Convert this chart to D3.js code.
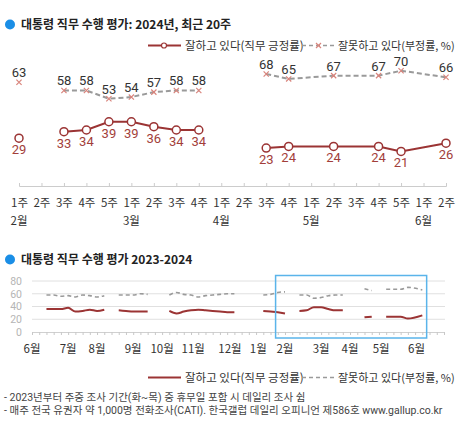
<!DOCTYPE html>
<html>
<head>
<meta charset="utf-8">
<script src="https://cdn.jsdelivr.net/npm/d3@7"></script>
<style>
  body { margin: 0; background: #fff; }
</style>
</head>
<body>
<div id="chart"></div>
<script>
// ---- top chart: last 20 weeks of 2024 ----
const topWeeks = ["1주", "2주", "3주", "4주", "5주", "1주", "2주", "3주", "4주", "1주",
  "2주", "3주", "4주", "1주", "2주", "3주", "4주", "5주", "1주", "2주"];
const topMonths = [
  { label: "2월", week: 0 }, { label: "3월", week: 5 }, { label: "4월", week: 9 },
  { label: "5월", week: 13 }, { label: "6월", week: 18 }
];
const topPositive = [29, null, 33, 34, 39, 39, 36, 34, 34, null,
  null, 23, 24, null, 24, null, 24, 21, null, 26];
const topNegative = [63, null, 58, 58, 53, 54, 57, 58, 58, null,
  null, 68, 65, null, 67, null, 67, 70, null, 66];
const topRuns = [[0, 0], [2, 8], [11, 19]];

// ---- bottom chart: weekly 2023-06 .. 2024-06 ----
const bottomPositive = [null, null, 36, 36, 36, 38, 32, 33, 35, 33,
  35, null, 34, 33, 32, 32, 32, null, null, 33,
  29, 32, 34, 35, 34, 33, 32, 31, 31, null,
  null, null, 33, 32, 31, 29, null, 33, 34, 39,
  39, 36, 34, 34, null, null, 23, 24, null, 24,
  null, 24, 21, null, 26, null, null, null];
const bottomNegative = [null, null, 58, 58, 56, 57, 55, 58, 57, 55,
  57, null, 58, 58, 58, 60, 59, null, null, 58,
  62, 59, 58, 55, 57, 58, 59, 60, 60, null,
  null, null, 58, 59, 62, 63, null, 58, 58, 53,
  54, 57, 58, 58, null, null, 68, 65, null, 67,
  null, 67, 70, null, 66, null, null, null];
const bottomRuns = [[2, 10], [12, 16], [19, 28], [32, 35], [37, 43], [46, 47], [49, 54]];
const bottomMonths = [
  { label: "6월", week: 0 }, { label: "7월", week: 5 }, { label: "8월", week: 9 },
  { label: "9월", week: 14 }, { label: "10월", week: 18 }, { label: "11월", week: 22.3 },
  { label: "12월", week: 27.4 }, { label: "1월", week: 31.3 }, { label: "2월", week: 35 },
  { label: "3월", week: 40 }, { label: "4월", week: 44 }, { label: "5월", week: 48.3 },
  { label: "6월", week: 53.2 }
];
const bottomYTicks = [0, 20, 40, 60, 80];
const highlightWeeks = [33.7, 54.6];

const legendPos = "잘하고 있다(직무 긍정률)";
const legendNeg = "잘못하고 있다(부정률, %)";
const notes = [
  "- 2023년부터 주중 조사 기간(화~목) 중 휴무일 포함 시 데일리 조사 쉼",
  "- 매주 전국 유권자 약 1,000명 전화조사(CATI). 한국갤럽 데일리 오피니언 제586호 www.gallup.co.kr"
];

const RED = "#9b3434";
const RED_TXT = "#a23e3a";
const GRAY = "#9a9a9a";
const PINK = "#d9847c";
const KR = "'Noto Sans CJK KR', 'Noto Sans', sans-serif";
const NUM = "Roboto, 'Noto Sans CJK KR', sans-serif";

const width = 474;
const height = 433;

const svg = d3.select("#chart")
  .append("svg")
  .attr("width", width)
  .attr("height", height)
  .attr("font-family", KR);

function runPoints(values, run) {
  const pts = [];
  for (let i = run[0]; i <= run[1]; i++) {
    if (values[i] != null) pts.push({ i: i, v: values[i] });
  }
  return pts;
}

function drawX(g, cx, cy, s, color) {
  g.append("path")
    .attr("d", `M${cx - s},${cy - s}L${cx + s},${cy + s}M${cx - s},${cy + s}L${cx + s},${cy - s}`)
    .attr("stroke", color)
    .attr("stroke-width", 1.2)
    .attr("fill", "none");
}

function title(y, text) {
  svg.append("circle").attr("cx", 10).attr("cy", y - 4.5).attr("r", 5).attr("fill", "#1a8ee6");
  svg.append("text")
    .attr("x", 21).attr("y", y)
    .attr("font-size", 12).attr("font-weight", "bold").attr("fill", "#222")
    .text(text);
}

function legend(y, withMarkers) {
  const lg = svg.append("g");
  lg.append("line").attr("x1", 148).attr("x2", 181).attr("y1", y).attr("y2", y)
    .attr("stroke", RED).attr("stroke-width", 2);
  if (withMarkers) {
    lg.append("circle").attr("cx", 164).attr("cy", y).attr("r", 2.5)
      .attr("fill", "#fff").attr("stroke", RED).attr("stroke-width", 1.2);
  }
  lg.append("text").attr("x", 185).attr("y", y + 4).attr("font-size", 11.5).attr("fill", "#333").text(legendPos);
  lg.append("line").attr("x1", 302).attr("x2", 335).attr("y1", y).attr("y2", y)
    .attr("stroke", GRAY).attr("stroke-width", 1.6).attr("stroke-dasharray", "4,3");
  if (withMarkers) drawX(lg, 318.5, y, 2.5, PINK);
  lg.append("text").attr("x", 338).attr("y", y + 4).attr("font-size", 11).attr("fill", "#333").text(legendNeg);
}

// ================= TOP CHART =================
title(29, "대통령 직무 수행 평가: 2024년, 최근 20주");
legend(45.5, true);

const xTop = d3.scaleLinear().domain([0, 19]).range([19, 446]);
const yTop = d3.scaleLinear().domain([0, 70]).range([186, 70.7]);

const gTop = svg.append("g");

// axis
const xTopAxis = d3.axisBottom(xTop)
  .tickValues(d3.range(topWeeks.length))
  .tickSize(-3)
  .tickFormat((d) => topWeeks[d]);
const axTop = gTop.append("g")
  .attr("transform", `translate(0,${yTop(0)})`)
  .call(xTopAxis)
  .attr("font-family", KR);
axTop.select(".domain").attr("stroke", "#ccc");
axTop.selectAll(".tick line").attr("stroke", "#ccc");
axTop.selectAll(".tick text")
  .attr("dy", 0).attr("y", 21).attr("font-size", 11.5).attr("fill", "#333");

gTop.selectAll(".month")
  .data(topMonths)
  .join("text")
  .attr("class", "month")
  .attr("x", (d) => xTop(d.week))
  .attr("y", 225)
  .attr("text-anchor", "middle")
  .attr("font-size", 11.5)
  .attr("fill", "#333")
  .text((d) => d.label);

const lineTop = d3.line().x((d) => xTop(d.i)).y((d) => yTop(d.v));

topRuns.forEach((run) => {
  gTop.append("path")
    .datum(runPoints(topNegative, run))
    .attr("fill", "none")
    .attr("stroke", GRAY)
    .attr("stroke-width", 2)
    .attr("stroke-dasharray", "5,3")
    .attr("d", lineTop);
  gTop.append("path")
    .datum(runPoints(topPositive, run))
    .attr("fill", "none")
    .attr("stroke", RED)
    .attr("stroke-width", 2)
    .attr("d", lineTop);
});

topNegative.forEach((v, i) => {
  if (v == null) return;
  drawX(gTop, xTop(i), yTop(v), 2.6, PINK);
  gTop.append("text")
    .attr("x", xTop(i)).attr("y", yTop(v) - 5)
    .attr("text-anchor", "middle").attr("font-size", 13).attr("fill", "#333")
    .attr("font-family", NUM)
    .text(v);
});

topPositive.forEach((v, i) => {
  if (v == null) return;
  gTop.append("circle")
    .attr("cx", xTop(i)).attr("cy", yTop(v)).attr("r", 4)
    .attr("fill", "#fff").attr("stroke", RED).attr("stroke-width", 1.5);
  gTop.append("text")
    .attr("x", xTop(i)).attr("y", yTop(v) + 16)
    .attr("text-anchor", "middle").attr("font-size", 13).attr("fill", RED_TXT)
    .attr("font-family", NUM)
    .text(v);
});

// ================= BOTTOM CHART =================
title(264, "대통령 직무 수행 평가 2023-2024");

const xBot = d3.scaleLinear().domain([0, 57]).range([32, 444]);
const yBot = d3.scaleLinear().domain([0, 80]).range([332, 281]);

const gBot = svg.append("g");

// grid + y labels
gBot.selectAll(".grid")
  .data(bottomYTicks.filter((d) => d > 0))
  .join("line")
  .attr("x1", 32).attr("x2", 445)
  .attr("y1", (d) => yBot(d)).attr("y2", (d) => yBot(d))
  .attr("stroke", "#e0e0e0");

const yAxisBot = d3.axisLeft(yBot).tickValues(bottomYTicks).tickSize(0).tickPadding(0);
const ayBot = gBot.append("g").attr("transform", "translate(22,0)").call(yAxisBot)
  .attr("font-family", NUM).attr("font-size", 10.5);
ayBot.select(".domain").remove();
ayBot.selectAll("text").attr("fill", "#b5b5b5");

const xAxisBot = d3.axisBottom(xBot).tickValues(d3.range(58)).tickSize(3).tickFormat("");
const axBot = gBot.append("g").attr("transform", `translate(0,${yBot(0)})`).call(xAxisBot);
axBot.select(".domain").attr("stroke", "#d0d0d0");
axBot.selectAll(".tick line").attr("stroke", "#c8c8c8");

gBot.selectAll(".bmonth")
  .data(bottomMonths)
  .join("text")
  .attr("class", "bmonth")
  .attr("x", (d) => xBot(d.week))
  .attr("y", 352.5)
  .attr("text-anchor", "middle")
  .attr("font-size", 11.5)
  .attr("fill", "#333")
  .text((d) => d.label);

const lineBot = d3.line().x((d) => xBot(d.i)).y((d) => yBot(d.v)).curve(d3.curveMonotoneX);

bottomRuns.forEach((run) => {
  gBot.append("path")
    .datum(runPoints(bottomNegative, run))
    .attr("fill", "none")
    .attr("stroke", GRAY)
    .attr("stroke-width", 1.6)
    .attr("stroke-dasharray", "4,3")
    .attr("d", lineBot);
  gBot.append("path")
    .datum(runPoints(bottomPositive, run))
    .attr("fill", "none")
    .attr("stroke", RED)
    .attr("stroke-width", 2)
    .attr("d", lineBot);
});

// highlight box for the last 20 weeks
gBot.append("rect")
  .attr("x", xBot(highlightWeeks[0]))
  .attr("y", 275.5)
  .attr("width", xBot(highlightWeeks[1]) - xBot(highlightWeeks[0]))
  .attr("height", 62.5)
  .attr("fill", "none")
  .attr("stroke", "#5ab4ea")
  .attr("stroke-width", 1.5);

legend(377.5, false);

svg.selectAll(".note")
  .data(notes)
  .join("text")
  .attr("class", "note")
  .attr("x", 4)
  .attr("y", (d, i) => 401.3 + i * 12.3)
  .attr("font-size", 10.5)
  .attr("font-family", NUM)
  .attr("fill", "#444")
  .text((d) => d);
</script>
</body>
</html>
